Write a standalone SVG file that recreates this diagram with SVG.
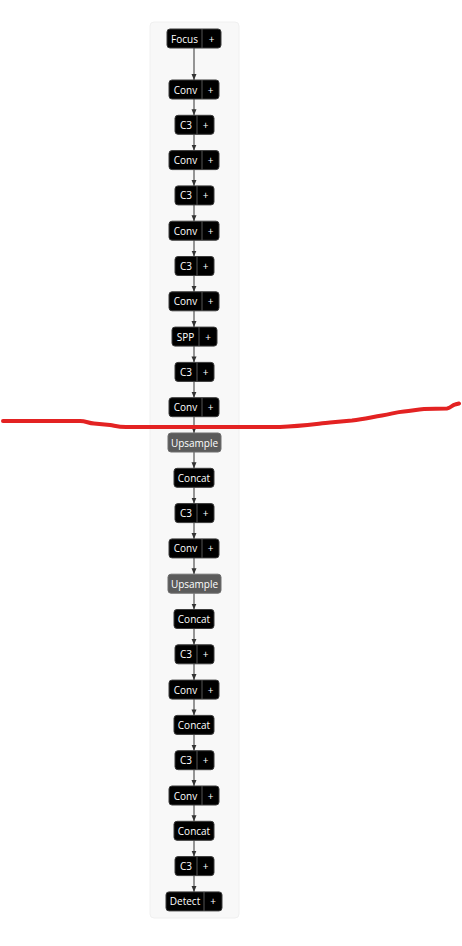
<svg xmlns="http://www.w3.org/2000/svg" width="462" height="946" viewBox="0 0 462 946">
<defs>
<marker id="ah" viewBox="0 0 6 6" refX="6" refY="3" markerWidth="6" markerHeight="6" markerUnits="userSpaceOnUse" orient="auto">
<path d="M0,0.5 L6,3 L0,5.5 Z" fill="#333"/>
</marker>
</defs>
<style>
.panel{fill:#f8f8f8;stroke:#f0f0f0;stroke-width:1}
.n{fill:#000;stroke:#3a3a3a;stroke-width:1}
.g{fill:#5b5b5b;stroke:#6e6e6e;stroke-width:1}
.d{stroke:#555;stroke-width:1}
.t{font-family:"Open Sans","Noto Sans",sans-serif;font-size:10px;fill:#fff;text-anchor:middle;dominant-baseline:central}
.c{stroke:#333;stroke-width:1;fill:none;marker-end:url(#ah)}
.red{fill:none;stroke:#e32222;stroke-width:4;stroke-linecap:round;stroke-linejoin:round}
</style>
<rect class="panel" x="150" y="22" width="89" height="896" rx="4"/>
<g id="connectors">
<line class="c" x1="194" y1="48" x2="194" y2="80"/>
<line class="c" x1="194" y1="99" x2="194" y2="115.3"/>
<line class="c" x1="194" y1="134.3" x2="194" y2="150.6"/>
<line class="c" x1="194" y1="169.6" x2="194" y2="185.9"/>
<line class="c" x1="194" y1="204.9" x2="194" y2="221.2"/>
<line class="c" x1="194" y1="240.2" x2="194" y2="256.5"/>
<line class="c" x1="194" y1="275.5" x2="194" y2="291.8"/>
<line class="c" x1="194" y1="310.8" x2="194" y2="327.1"/>
<line class="c" x1="194" y1="346.1" x2="194" y2="362.4"/>
<line class="c" x1="194" y1="381.4" x2="194" y2="397.7"/>
<line class="c" x1="194" y1="416.7" x2="194" y2="433"/>
<line class="c" x1="194" y1="452" x2="194" y2="468.3"/>
<line class="c" x1="194" y1="487.3" x2="194" y2="503.6"/>
<line class="c" x1="194" y1="522.6" x2="194" y2="538.9"/>
<line class="c" x1="194" y1="557.9" x2="194" y2="574.2"/>
<line class="c" x1="194" y1="593.2" x2="194" y2="609.5"/>
<line class="c" x1="194" y1="628.5" x2="194" y2="644.8"/>
<line class="c" x1="194" y1="663.8" x2="194" y2="680.1"/>
<line class="c" x1="194" y1="699.1" x2="194" y2="715.4"/>
<line class="c" x1="194" y1="734.4" x2="194" y2="750.7"/>
<line class="c" x1="194" y1="769.7" x2="194" y2="786"/>
<line class="c" x1="194" y1="805" x2="194" y2="821.3"/>
<line class="c" x1="194" y1="840.3" x2="194" y2="856.6"/>
<line class="c" x1="194" y1="875.6" x2="194" y2="891.9"/>
</g>
<g id="n0"><rect class="n" x="167" y="29" width="54" height="19" rx="3"/><line class="d" x1="202" y1="29" x2="202" y2="48"/><text class="t" x="184.5" y="38.5">Focus</text><text class="t" x="211.5" y="38.5">+</text></g>
<g id="n1"><rect class="n" x="169" y="80" width="50" height="19" rx="3"/><line class="d" x1="202" y1="80" x2="202" y2="99"/><text class="t" x="185.5" y="89.5">Conv</text><text class="t" x="210.5" y="89.5">+</text></g>
<g id="n2"><rect class="n" x="175" y="115.3" width="39" height="19" rx="3"/><line class="d" x1="197" y1="115.3" x2="197" y2="134.3"/><text class="t" x="186" y="124.8">C3</text><text class="t" x="205.5" y="124.8">+</text></g>
<g id="n3"><rect class="n" x="169" y="150.6" width="50" height="19" rx="3"/><line class="d" x1="202" y1="150.6" x2="202" y2="169.6"/><text class="t" x="185.5" y="160.1">Conv</text><text class="t" x="210.5" y="160.1">+</text></g>
<g id="n4"><rect class="n" x="175" y="185.9" width="39" height="19" rx="3"/><line class="d" x1="197" y1="185.9" x2="197" y2="204.9"/><text class="t" x="186" y="195.4">C3</text><text class="t" x="205.5" y="195.4">+</text></g>
<g id="n5"><rect class="n" x="169" y="221.2" width="50" height="19" rx="3"/><line class="d" x1="202" y1="221.2" x2="202" y2="240.2"/><text class="t" x="185.5" y="230.7">Conv</text><text class="t" x="210.5" y="230.7">+</text></g>
<g id="n6"><rect class="n" x="175" y="256.5" width="39" height="19" rx="3"/><line class="d" x1="197" y1="256.5" x2="197" y2="275.5"/><text class="t" x="186" y="266">C3</text><text class="t" x="205.5" y="266">+</text></g>
<g id="n7"><rect class="n" x="169" y="291.8" width="50" height="19" rx="3"/><line class="d" x1="202" y1="291.8" x2="202" y2="310.8"/><text class="t" x="185.5" y="301.3">Conv</text><text class="t" x="210.5" y="301.3">+</text></g>
<g id="n8"><rect class="n" x="172" y="327.1" width="45" height="19" rx="3"/><line class="d" x1="199" y1="327.1" x2="199" y2="346.1"/><text class="t" x="185.5" y="336.6">SPP</text><text class="t" x="208" y="336.6">+</text></g>
<g id="n9"><rect class="n" x="175" y="362.4" width="39" height="19" rx="3"/><line class="d" x1="197" y1="362.4" x2="197" y2="381.4"/><text class="t" x="186" y="371.9">C3</text><text class="t" x="205.5" y="371.9">+</text></g>
<g id="n10"><rect class="n" x="169" y="397.7" width="50" height="19" rx="3"/><line class="d" x1="202" y1="397.7" x2="202" y2="416.7"/><text class="t" x="185.5" y="407.2">Conv</text><text class="t" x="210.5" y="407.2">+</text></g>
<g id="n11"><rect class="g" x="168" y="433" width="53" height="19" rx="3"/><text class="t" x="194.5" y="442.5">Upsample</text></g>
<g id="n12"><rect class="n" x="174" y="468.3" width="40" height="19" rx="3"/><text class="t" x="194" y="477.8">Concat</text></g>
<g id="n13"><rect class="n" x="175" y="503.6" width="39" height="19" rx="3"/><line class="d" x1="197" y1="503.6" x2="197" y2="522.6"/><text class="t" x="186" y="513.1">C3</text><text class="t" x="205.5" y="513.1">+</text></g>
<g id="n14"><rect class="n" x="169" y="538.9" width="50" height="19" rx="3"/><line class="d" x1="202" y1="538.9" x2="202" y2="557.9"/><text class="t" x="185.5" y="548.4">Conv</text><text class="t" x="210.5" y="548.4">+</text></g>
<g id="n15"><rect class="g" x="168" y="574.2" width="53" height="19" rx="3"/><text class="t" x="194.5" y="583.7">Upsample</text></g>
<g id="n16"><rect class="n" x="174" y="609.5" width="40" height="19" rx="3"/><text class="t" x="194" y="619">Concat</text></g>
<g id="n17"><rect class="n" x="175" y="644.8" width="39" height="19" rx="3"/><line class="d" x1="197" y1="644.8" x2="197" y2="663.8"/><text class="t" x="186" y="654.3">C3</text><text class="t" x="205.5" y="654.3">+</text></g>
<g id="n18"><rect class="n" x="169" y="680.1" width="50" height="19" rx="3"/><line class="d" x1="202" y1="680.1" x2="202" y2="699.1"/><text class="t" x="185.5" y="689.6">Conv</text><text class="t" x="210.5" y="689.6">+</text></g>
<g id="n19"><rect class="n" x="174" y="715.4" width="40" height="19" rx="3"/><text class="t" x="194" y="724.9">Concat</text></g>
<g id="n20"><rect class="n" x="175" y="750.7" width="39" height="19" rx="3"/><line class="d" x1="197" y1="750.7" x2="197" y2="769.7"/><text class="t" x="186" y="760.2">C3</text><text class="t" x="205.5" y="760.2">+</text></g>
<g id="n21"><rect class="n" x="169" y="786" width="50" height="19" rx="3"/><line class="d" x1="202" y1="786" x2="202" y2="805"/><text class="t" x="185.5" y="795.5">Conv</text><text class="t" x="210.5" y="795.5">+</text></g>
<g id="n22"><rect class="n" x="174" y="821.3" width="40" height="19" rx="3"/><text class="t" x="194" y="830.8">Concat</text></g>
<g id="n23"><rect class="n" x="175" y="856.6" width="39" height="19" rx="3"/><line class="d" x1="197" y1="856.6" x2="197" y2="875.6"/><text class="t" x="186" y="866.1">C3</text><text class="t" x="205.5" y="866.1">+</text></g>
<g id="n24"><rect class="n" x="166" y="891.9" width="56" height="19" rx="3"/><line class="d" x1="204" y1="891.9" x2="204" y2="910.9"/><text class="t" x="185" y="901.4">Detect</text><text class="t" x="213" y="901.4">+</text></g>
<path class="red" d="M3,421 L80,421 C86,421 88,423 94,423.5 L110,425 C116,426 118,427 126,427 L280,427 C300,426 315,424 330,422.5 L352,420.5 C365,419 372,417 382,415.5 C392,414 396,412 404,411.5 C412,411 416,409.5 424,409 L447,408.5 C451,408 452,405 455,404.5 L459,403.5"/>
</svg>
